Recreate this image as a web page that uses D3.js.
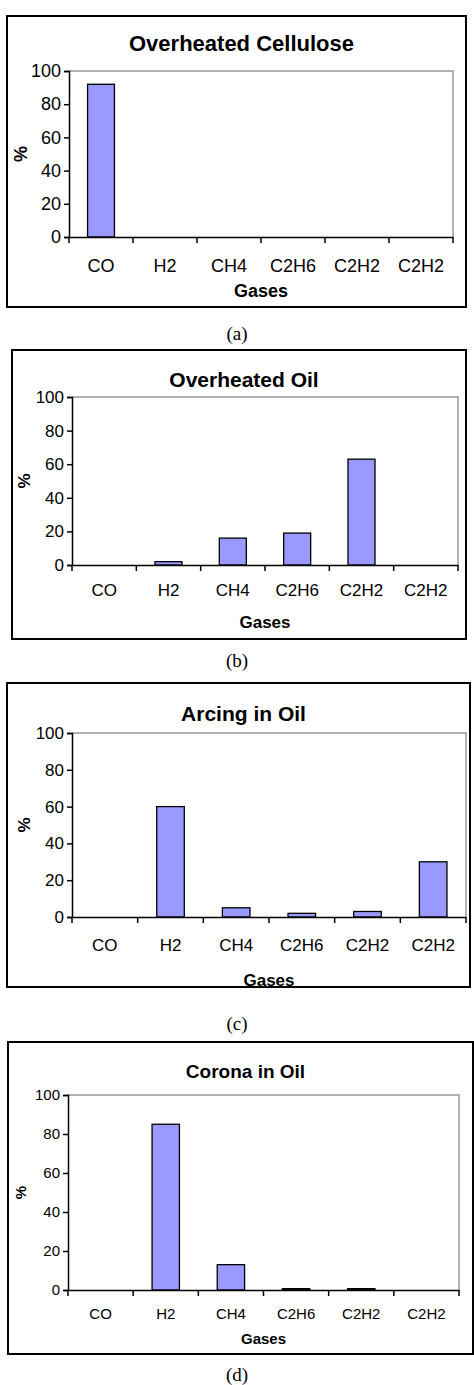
<!DOCTYPE html>
<html><head><meta charset="utf-8">
<script src="https://cdn.jsdelivr.net/npm/d3@7"></script>
<style>body{margin:0;background:#fff}svg{display:block}</style>
</head><body>
<script>
const gases = ['CO', 'H2', 'CH4', 'C2H6', 'C2H2', 'C2H2'];
const yTicks = [0, 20, 40, 60, 80, 100];
const titles = ['Overheated Cellulose', 'Overheated Oil', 'Arcing in Oil', 'Corona in Oil'];
const captions = ['(a)', '(b)', '(c)', '(d)'];
const cellulose = [92, 0, 0, 0, 0, 0];
const oil = [0, 2, 16, 19, 63, 0];
const arcing = [0, 60, 5, 2, 3, 30];
const corona = [0, 85, 13, 0.7, 0.7, 0];
const series = [cellulose, oil, arcing, corona];

// layout of each panel: frame, plot area, text positions
const panels = [
  {fx: 7, fy: 16, fw: 459, fh: 291, px: 69, py: 71, pw: 384, ph: 166, ty: 51, lx: 272, gy: 297, cy: 340, fs: 18},
  {fx: 12, fy: 350, fw: 454, fh: 289, px: 72, py: 397, pw: 386, ph: 168, ty: 387, lx: 596, gy: 628, cy: 667, fs: 17},
  {fx: 7, fy: 683, fw: 463, fh: 304, px: 72, py: 733, pw: 394, ph: 184, ty: 721, lx: 951, gy: 986, cy: 1030, fs: 17},
  {fx: 8, fy: 1042, fw: 465, fh: 312, px: 68, py: 1095, pw: 391, ph: 195, ty: 1078, lx: 1319, gy: 1344, cy: 1381, fs: 15}
];

const svg = d3.select('body').append('svg').attr('width', 474).attr('height', 1385);
const font = 'Liberation Sans, Arial, sans-serif';

panels.forEach((p, i) => {
  const g = svg.append('g');
  g.append('rect').attr('x', p.fx).attr('y', p.fy).attr('width', p.fw).attr('height', p.fh)
    .attr('fill', 'none').attr('stroke', '#000').attr('stroke-width', 2);

  const x = d3.scaleBand().domain(d3.range(gases.length)).range([p.px, p.px + p.pw]);
  const y = d3.scaleLinear().domain([0, 100]).range([p.py + p.ph, p.py]);

  // grey top/right border of plot area
  g.append('path').attr('d', `M${p.px},${p.py}H${p.px + p.pw}V${p.py + p.ph}`)
    .attr('fill', 'none').attr('stroke', '#999').attr('stroke-width', 1.5);

  const bw = x.bandwidth() * 0.42;
  g.selectAll('rect.bar').data(series[i]).join('rect').attr('class', 'bar')
    .attr('x', (d, j) => x(j) + (x.bandwidth() - bw) / 2)
    .attr('y', d => y(d))
    .attr('width', bw)
    .attr('height', d => y(0) - y(d))
    .attr('fill', '#9999ff').attr('stroke', '#000').attr('stroke-width', 1.3)
    .attr('visibility', d => d > 0 ? 'visible' : 'hidden');

  const ya = g.append('g').attr('transform', `translate(${p.px},0)`)
    .call(d3.axisLeft(y).tickValues(yTicks).tickSize(5).tickPadding(3));
  ya.selectAll('text').attr('font-size', p.fs).attr('font-family', font).attr('fill', '#000');
  ya.selectAll('line,path').attr('stroke', '#000').attr('stroke-width', 1.5);

  const xa = g.append('g').attr('transform', `translate(0,${p.py + p.ph})`)
    .call(d3.axisBottom(x).tickValues(d3.range(1, gases.length + 1)).tickFormat('').tickSize(6).tickSizeOuter(0));
  xa.selectAll('line,path').attr('stroke', '#000').attr('stroke-width', 1.5);
  g.append('line').attr('x1', p.px).attr('x2', p.px).attr('y1', p.py + p.ph).attr('y2', p.py + p.ph + 6).attr('stroke', '#000').attr('stroke-width', 1.5);
  // ticks at band boundaries
  xa.selectAll('.tick').attr('transform', d => `translate(${x(d - 1) + x.bandwidth()},0)`);

  g.selectAll('text.lab').data(gases).join('text').attr('class', 'lab')
    .attr('x', (d, j) => x(j) + x.bandwidth() / 2).attr('y', p.lx)
    .attr('text-anchor', 'middle').attr('font-size', p.fs).attr('font-family', font).text(d => d);

  g.append('text').attr('x', (p.px + p.px + p.pw) / 2).attr('y', p.gy)
    .attr('text-anchor', 'middle').attr('font-size', p.fs).attr('font-weight', 'bold').attr('font-family', font).text('Gases');

  g.append('text').attr('x', (p.fx + p.fx + p.fw) / 2 + 5).attr('y', p.ty)
    .attr('text-anchor', 'middle').attr('font-size', p.fs + 4).attr('font-weight', 'bold').attr('font-family', font).text(titles[i]);

  g.append('text').attr('transform', `translate(${p.px - 42},${p.py + p.ph / 2}) rotate(-90)`)
    .attr('text-anchor', 'middle').attr('font-size', p.fs).attr('font-weight', 'bold').attr('font-family', font).text('%');

  svg.append('text').attr('x', 237).attr('y', p.cy).attr('text-anchor', 'middle')
    .attr('font-size', 19).attr('font-family', 'Liberation Serif, serif').text(captions[i]);
});
</script>
</body></html>
